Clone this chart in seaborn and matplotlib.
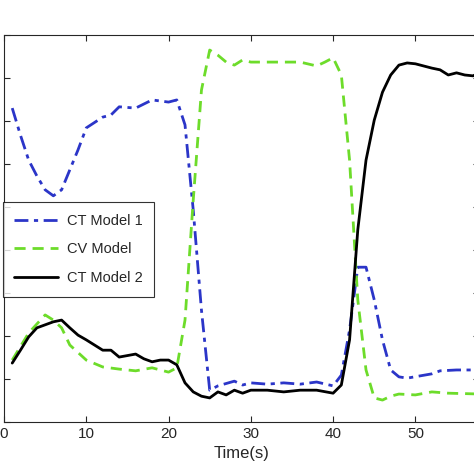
import pandas as pd
import matplotlib
matplotlib.use("Agg")
import matplotlib.pyplot as plt
import seaborn as sns

sns.set_style("ticks")
plt.rcParams['font.family'] = ['Liberation Sans', 'DejaVu Sans']

# CT Model 1
t1 = [1, 2, 3, 4, 5, 6, 7, 9, 10, 12, 13, 14, 16, 18, 20, 21, 22, 23, 24, 25, 26, 28, 29, 30,
      32, 34, 36, 38, 40, 41, 42, 43, 44, 45, 46, 47, 48, 49, 52, 53, 55, 58]
y1 = [7.30, 6.67, 6.09, 5.72, 5.40, 5.26, 5.40, 6.33, 6.84, 7.09, 7.14, 7.33, 7.30, 7.49, 7.44, 7.49,
      6.91, 4.93, 2.60, 0.74, 0.84, 0.95, 0.86, 0.91, 0.88, 0.91, 0.88, 0.93, 0.84, 1.09, 2.14, 3.60,
      3.60, 2.84, 1.91, 1.21, 1.05, 1.02, 1.12, 1.19, 1.21, 1.21]
# CV Model
t2 = [1, 3, 5, 6, 7, 8, 10, 12, 14, 16, 18, 20, 21, 22, 23, 24, 25, 26, 27, 28, 29, 30, 32, 34,
      36, 38, 39, 40, 41, 42, 43, 44, 45, 46, 47, 48, 50, 52, 54, 58]
y2 = [1.44, 2.07, 2.49, 2.37, 2.19, 1.79, 1.44, 1.28, 1.23, 1.19, 1.26, 1.16, 1.26, 2.37, 5.16, 7.72,
      8.65, 8.53, 8.37, 8.30, 8.42, 8.37, 8.37, 8.37, 8.37, 8.28, 8.37, 8.47, 8.07, 6.09, 2.84, 1.21,
      0.56, 0.51, 0.60, 0.65, 0.63, 0.70, 0.67, 0.65]
# CT Model 2
t3 = [1, 2, 3, 4, 5, 6, 7, 8, 9, 10, 12, 13, 14, 16, 17, 18, 19, 20, 21, 22, 23, 24, 25, 26, 27,
      28, 29, 30, 32, 34, 36, 38, 40, 41, 42, 43, 44, 45, 46, 47, 48, 49, 50, 51, 52, 53, 54, 55,
      56, 57, 58]
y3 = [1.37, 1.67, 1.98, 2.19, 2.26, 2.33, 2.37, 2.19, 2.02, 1.91, 1.67, 1.67, 1.51, 1.58, 1.47, 1.40,
      1.44, 1.44, 1.33, 0.91, 0.70, 0.60, 0.56, 0.70, 0.63, 0.74, 0.67, 0.74, 0.74, 0.70, 0.74, 0.74,
      0.67, 0.86, 1.91, 4.47, 6.09, 7.02, 7.67, 8.07, 8.30, 8.35, 8.33, 8.28, 8.23, 8.19, 8.07, 8.12,
      8.07, 8.05, 8.14]

fig = plt.figure(figsize=(4.74, 4.74), dpi=100)
ax = fig.add_axes([4 / 474, 1 - 422 / 474, 1 - 4 / 474 + 0.01, (422 - 35) / 474])

sns.lineplot(x=t1, y=y1, ax=ax, color='#2b35c8', lw=2, label='CT Model 1', sort=False)
ax.lines[-1].set_linestyle((0, (5, 2, 1.5, 2)))
sns.lineplot(x=t2, y=y2, ax=ax, color='#6ddc2a', lw=2, label='CV Model', sort=False)
ax.lines[-1].set_linestyle((0, (4, 2.5)))
sns.lineplot(x=t3, y=y3, ax=ax, color='black', lw=2, label='CT Model 2', sort=False)

ax.set_xlim(0, 57.7)
ax.set_ylim(0, 9)
ax.set_xticks([0, 10, 20, 30, 40, 50])
ax.set_yticks(range(10))
ax.set_yticklabels([])
ax.tick_params(direction='in', labelsize=11, length=4)
ax.tick_params(axis='both', top=True, right=True)
ax.set_xlabel('Time(s)', fontsize=12)
for s in ax.spines.values():
    s.set_linewidth(0.8)

leg = ax.legend(loc='upper left', bbox_to_anchor=(-0.003, 1 - (202 - 35) / 387), fontsize=10.5,
                frameon=True, fancybox=False, edgecolor='black', handlelength=3.0,
                handletextpad=0.6, labelspacing=1.0, borderpad=0.8, borderaxespad=0)
leg.get_frame().set_linewidth(0.8)

fig.savefig('out.png', dpi=100)
